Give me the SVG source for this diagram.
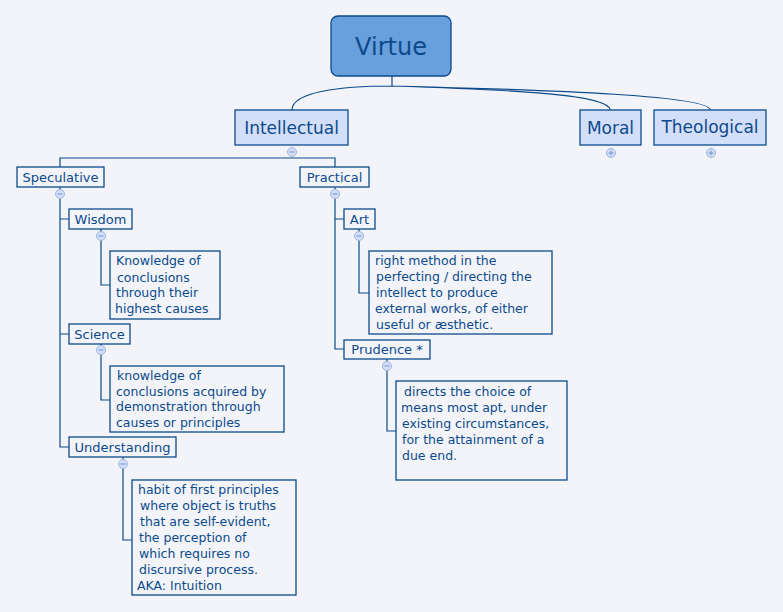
<svg xmlns="http://www.w3.org/2000/svg" width="783" height="612" viewBox="0 0 783 612">
<style>
text{font-family:"DejaVu Sans",Verdana,sans-serif;fill:#0d4a8a}
.b{fill:#f2f4fa;stroke:#0d4a8a;stroke-width:1.3}
.m{fill:#d3defb;stroke:#0d4a8a;stroke-width:1.3}
.t{font-size:13px}
.n{font-size:12.5px}
.c path{fill:none;stroke:#0d4a8a;stroke-width:1.2}
.k circle{fill:#d3defb;stroke:#9db6dc}
.k path{stroke:#6f93c4;stroke-width:1}
</style>
<rect width="783" height="612" fill="#f2f4fa"/>
<g class="c">
<path d="M392 76V86C340 86 292 92 292 110M392 86C520 90 610 95 610 110M392 86C560 90 710 96 710 110"/>
<path d="M60 167V158H335V167"/>
<path d="M60 187V447H69M60 219H69M60 334H69"/>
<path d="M101 229V285H110M101 344V400H110M123 457V540H132"/>
<path d="M335 187V349H344M335 219H344"/>
<path d="M359 229V293H369M387 359V431H396"/>
</g>
<g id="virtue"><rect x="331" y="16" width="120" height="60" rx="7" fill="#67a0dd" stroke="#0d4a8a" stroke-width="1.3"/><text x="391" y="55" font-size="24" text-anchor="middle">Virtue</text></g>
<g id="intellectual"><rect class="m" x="235" y="110" width="113" height="35"/><text x="291.5" y="134" font-size="17" text-anchor="middle">Intellectual</text></g>
<g id="moral"><rect class="m" x="580" y="110" width="61" height="35"/><text x="610.5" y="134" font-size="17" text-anchor="middle">Moral</text></g>
<g id="theological"><rect class="m" x="654" y="110" width="112" height="35"/><text x="710" y="133" font-size="17" text-anchor="middle">Theological</text></g>
<g id="speculative"><rect class="b" x="17" y="167" width="87" height="20"/><text class="t" x="60.5" y="182" text-anchor="middle">Speculative</text></g>
<g id="practical"><rect class="b" x="300" y="167" width="69" height="20"/><text class="t" x="334.5" y="182" text-anchor="middle">Practical</text></g>
<g id="wisdom"><rect class="b" x="69" y="209" width="63" height="20"/><text class="t" x="100.5" y="224" text-anchor="middle">Wisdom</text></g>
<g id="science"><rect class="b" x="69" y="324" width="61" height="20"/><text class="t" x="99.5" y="339" text-anchor="middle">Science</text></g>
<g id="understanding"><rect class="b" x="69" y="437" width="107" height="20"/><text class="t" x="122.5" y="452" text-anchor="middle">Understanding</text></g>
<g id="art"><rect class="b" x="344" y="209" width="31" height="20"/><text class="t" x="359.5" y="224" text-anchor="middle">Art</text></g>
<g id="prudence"><rect class="b" x="344" y="340" width="86" height="19"/><text class="t" x="387" y="354" text-anchor="middle">Prudence *</text></g>
<g id="wisdom-note"><rect class="b" x="110" y="251" width="110" height="68"/><text class="n"><tspan x="116" y="265">Knowledge of</tspan><tspan x="117" y="282">conclusions</tspan><tspan x="116" y="297">through their</tspan><tspan x="115" y="313">highest causes</tspan></text></g>
<g id="science-note"><rect class="b" x="110" y="366" width="174" height="66"/><text class="n"><tspan x="117" y="380">knowledge of</tspan><tspan x="116" y="396">conclusions acquired by</tspan><tspan x="116" y="411">demonstration through</tspan><tspan x="116" y="427">causes or principles</tspan></text></g>
<g id="understanding-note"><rect class="b" x="132" y="480" width="164" height="115"/><text class="n"><tspan x="138" y="494">habit of first principles</tspan><tspan x="140" y="510">where object is truths</tspan><tspan x="140" y="526">that are self-evident,</tspan><tspan x="139" y="542">the perception of</tspan><tspan x="139" y="558">which requires no</tspan><tspan x="139" y="574">discursive process.</tspan><tspan x="137" y="590">AKA: Intuition</tspan></text></g>
<g id="art-note"><rect class="b" x="369" y="251" width="183" height="83"/><text class="n"><tspan x="375" y="265">right method in the</tspan><tspan x="376" y="281">perfecting / directing the</tspan><tspan x="376" y="297">intellect to produce</tspan><tspan x="375" y="313">external works, of either</tspan><tspan x="376" y="329">useful or æsthetic.</tspan></text></g>
<g id="prudence-note"><rect class="b" x="396" y="381" width="171" height="99"/><text class="n"><tspan x="404" y="396">directs the choice of</tspan><tspan x="401" y="412">means most apt, under</tspan><tspan x="402" y="428">existing circumstances,</tspan><tspan x="402" y="444">for the attainment of a</tspan><tspan x="402" y="460">due end.</tspan></text></g>
<g class="k">
<circle cx="292" cy="152" r="4.5"/><path d="M289.5 152h5"/>
<circle cx="60" cy="194" r="4.5"/><path d="M57.5 194h5"/>
<circle cx="335" cy="194" r="4.5"/><path d="M332.5 194h5"/>
<circle cx="101" cy="236" r="4.5"/><path d="M98.5 236h5"/>
<circle cx="101" cy="350" r="4.5"/><path d="M98.5 350h5"/>
<circle cx="123" cy="464" r="4.5"/><path d="M120.5 464h5"/>
<circle cx="359" cy="236" r="4.5"/><path d="M356.5 236h5"/>
<circle cx="387" cy="366" r="4.5"/><path d="M384.5 366h5"/>
<circle cx="611" cy="153" r="4.5"/><path d="M608.5 153h5M611 150.5v5" stroke="#0d4a8a"/>
<circle cx="711" cy="153" r="4.5"/><path d="M708.5 153h5M711 150.5v5" stroke="#0d4a8a"/>
</g>
</svg>
